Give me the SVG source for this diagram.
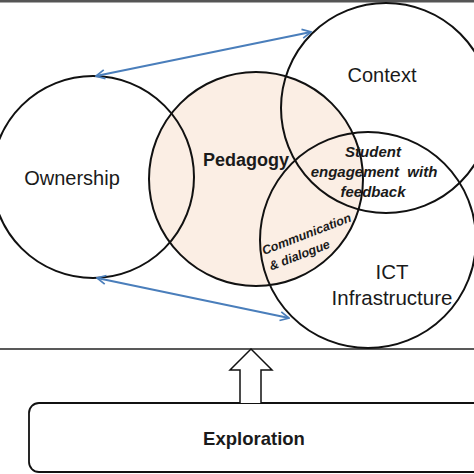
<svg xmlns="http://www.w3.org/2000/svg" width="474" height="474" viewBox="0 0 474 474">
<defs>
<style>
.c{fill:none;stroke:#111;stroke-width:2}
.t{font-family:"Liberation Sans",Arial,sans-serif;fill:#1a1a1a}
.b{font-weight:bold}
.bi{font-weight:bold;font-style:italic}
.link{stroke:#4a7ebb;stroke-width:2.2;fill:none;marker-start:url(#ah);marker-end:url(#ah)}
</style>
<marker id="ah" viewBox="0 0 10 10" refX="9" refY="5" markerWidth="5" markerHeight="5" orient="auto-start-reverse" markerUnits="strokeWidth">
<path d="M1,1 L9,5 L1,9" fill="none" stroke="#4a7ebb" stroke-width="1.6"/>
</marker>
</defs>
<rect width="474" height="474" fill="#fff"/>
<line x1="0" y1="1" x2="474" y2="1" stroke="#555" stroke-width="3"/>
<line x1="0" y1="349" x2="474" y2="349" stroke="#222" stroke-width="1.5"/>
<g id="pedagogy">
<circle cx="256" cy="179" r="107" fill="#fbeee4" stroke="#111" stroke-width="2"/>
<text class="t b" x="246" y="166" font-size="18" text-anchor="middle">Pedagogy</text>
</g>
<g id="ownership">
<circle class="c" cx="93" cy="177" r="101"/>
<text class="t" x="72" y="185" font-size="20" text-anchor="middle">Ownership</text>
</g>
<g id="context">
<circle class="c" cx="386" cy="108" r="105"/>
<text class="t" x="382" y="82" font-size="20" text-anchor="middle">Context</text>
</g>
<g id="ict">
<circle class="c" cx="368" cy="240" r="108"/>
<text class="t" x="392" y="279" font-size="20.5" text-anchor="middle">ICT</text>
<text class="t" x="392" y="305" font-size="20.5" text-anchor="middle">Infrastructure</text>
</g>
<g id="engagement">
<text class="t bi" x="373" y="157" font-size="15" text-anchor="middle">Student</text>
<text class="t bi" x="374" y="177" font-size="15" text-anchor="middle" xml:space="preserve">engagement  with</text>
<text class="t bi" x="373" y="197" font-size="15" text-anchor="middle">feedback</text>
</g>
<g id="communication">
<text class="t bi" font-size="12.5" text-anchor="middle" transform="translate(308,238) rotate(-21)">Communication</text>
<text class="t bi" font-size="12.5" text-anchor="middle" transform="translate(301,259) rotate(-21)">&amp; dialogue</text>
</g>
<g id="exploration">
<rect x="29" y="403" width="470" height="69" rx="10" fill="#fff" stroke="#111" stroke-width="1.8"/>
<text class="t b" x="254" y="445" font-size="18.5" text-anchor="middle">Exploration</text>
</g>
<g id="connectors">
<path class="link" d="M96,76 L311,32"/>
<path class="link" d="M97,278 L289,318"/>
<path d="M240,403 L240,370 L230,370 L251,349 L272,370 L261,370 L261,403" fill="#fff" stroke="#111" stroke-width="1.5"/>
</g>
</svg>
